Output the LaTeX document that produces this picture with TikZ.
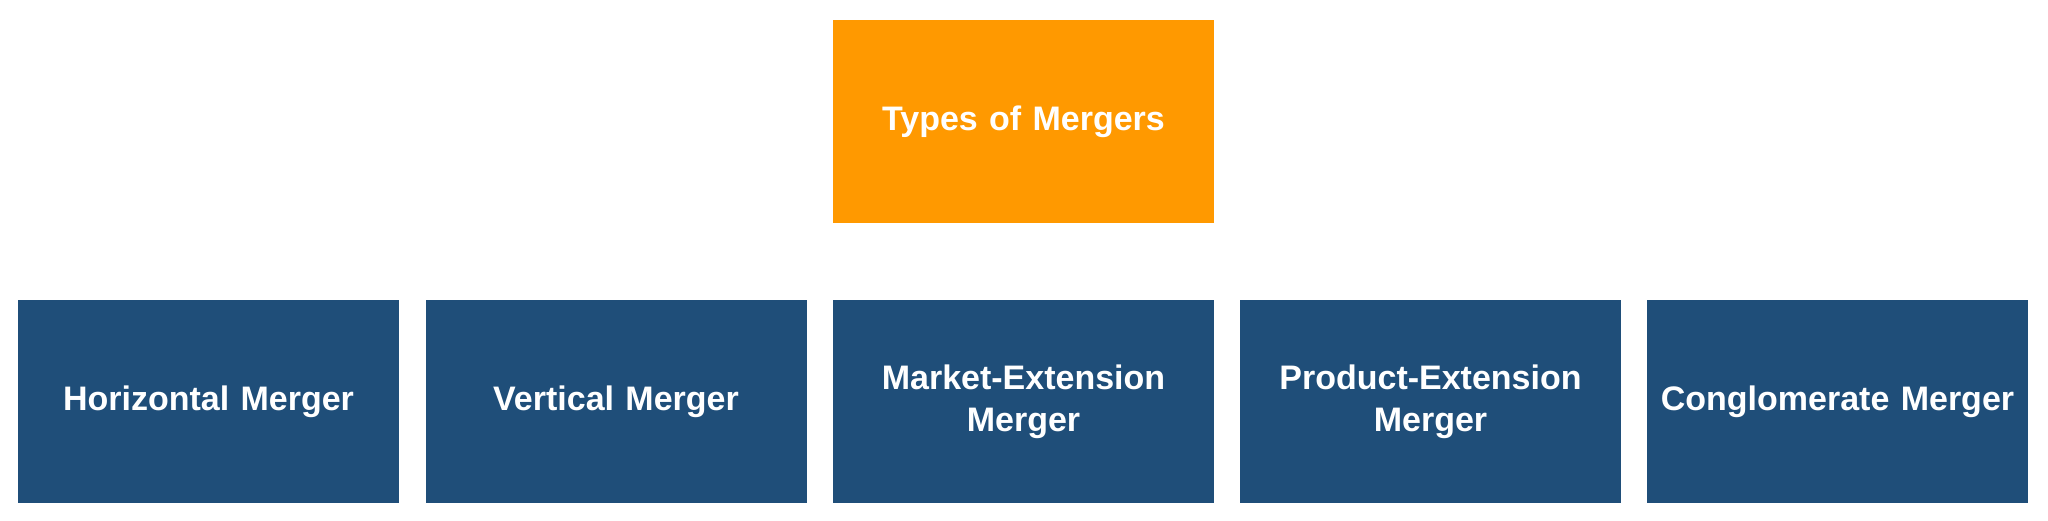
\documentclass[tikz,border=0pt]{standalone}
\usepackage{fontspec}
\setmainfont{Liberation Sans}
\definecolor{mergorange}{HTML}{FF9900}
\definecolor{mergblue}{HTML}{1F4E79}
\begin{document}
\begin{tikzpicture}[x=1pt,y=-1pt,
  box/.style={minimum width=381pt,minimum height=203pt,inner sep=0pt,outer sep=0pt,
    text=white,font=\fontsize{34}{42}\selectfont\bfseries,align=center,text width=375pt},
  topbox/.style={box,fill=mergorange},
  subbox/.style={box,fill=mergblue}]
\useasboundingbox (0,0) rectangle (2048,520);
\node[topbox] (root) at (1023.5,121.5) {Types of Mergers};
\node[subbox] (h) at (208.5,401.5) {Horizontal Merger};
\node[subbox] (v) at (616,401.5) {Vertical Merger};
\node[subbox] (m) at (1023.5,401.5) {Market-Extension\\Merger};
\node[subbox] (p) at (1430.5,401.5) {Product-Extension\\Merger};
\node[subbox] (c) at (1837.5,401.5) {Conglomerate Merger};
\end{tikzpicture}
\end{document}
